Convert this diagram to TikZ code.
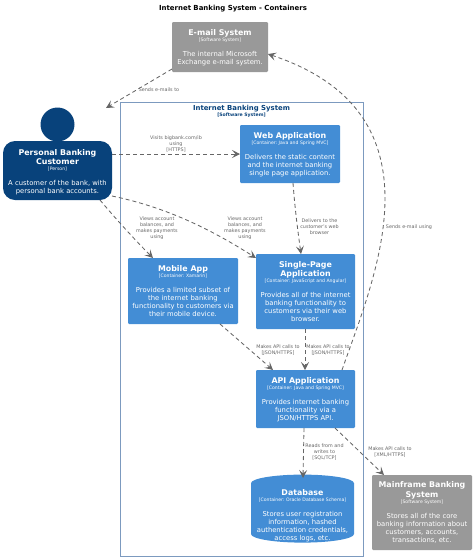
\documentclass[tikz,border=0pt]{standalone}
\usepackage{fontspec}
\setmainfont{DejaVu Sans}
\usetikzlibrary{arrows.meta,shapes.geometric}

\definecolor{personblue}{HTML}{08427B}
\definecolor{containerblue}{HTML}{438DD5}
\definecolor{externalgray}{HTML}{999999}
\definecolor{boundaryline}{HTML}{7C9ABF}
\definecolor{relgray}{HTML}{666666}

% size and leading, with the word space of that size
\newcommand{\fs}[2]{\fontsize{#1}{#2}\selectfont\spaceskip=\fontdimen2\font\xspaceskip=\spaceskip}
% title, kind, description of one box
\newcommand{\boxtext}[3]{%
  {\bfseries\fs{7.9}{9.2}#1\par}%
  {\fs{4.6}{6}[#2]\par}%
  \vspace{6.8pt}%
  {\fs{6.8}{8.1}#3\par}}

\begin{document}
\begin{tikzpicture}[
  x=1pt, y=-1pt,
  every node/.style={align=center},
  cbox/.style={rounded corners=1.2pt, text=white, inner sep=0pt, anchor=center},
  container/.style={cbox, fill=containerblue},
  external/.style={cbox, fill=externalgray},
  rel/.style={draw=relgray, line width=0.85pt, dash pattern=on 4pt off 3pt, -{Stealth[length=8pt,width=8pt,inset=3.5pt]}},
  lab/.style={text=relgray, inner sep=0pt, font=\fs{4.85}{6}}
]
\useasboundingbox (0,0) rectangle (474,558);

\node[font=\bfseries\fs{6.95}{8}, inner sep=0pt] (title) at (233,8.5) {Internet Banking System - Containers};

% system boundary
\node[draw=boundaryline, line width=0.6pt, minimum width=243pt, minimum height=454pt, inner sep=0pt] (boundary) at (241.5,329) {};
\node[text=personblue, inner sep=0pt, text width=160pt] (boundarytitle) at (241.5,111) {{\bfseries\fs{6.9}{8}Internet Banking System\par}{\bfseries\fs{4.6}{4.8}[Software System]\par}};

% person
\node[circle, fill=personblue, minimum size=34pt, inner sep=0pt] (head) at (57.5,124.5) {};
\node[cbox, fill=personblue, rounded corners=12pt, minimum width=109pt, minimum height=59pt, text width=108pt] (customer) at (57.5,170.5) {\boxtext{Personal Banking\\Customer}{Person}{A customer of the bank, with\\personal bank accounts.}\vspace{-3pt}};

\node[external, minimum width=96pt, minimum height=50pt, text width=96pt] (email) at (220,47) {\boxtext{E-mail System}{Software System}{The internal Microsoft\\Exchange e-mail system.}\vspace{-2pt}};
\node[container, minimum width=100pt, minimum height=58pt, text width=100pt] (web) at (290,154) {\boxtext{Web Application}{Container: Java and Spring MVC}{Delivers the static content\\and the internet banking\\single page application.}\vspace{-2pt}};
\node[container, minimum width=99pt, minimum height=75pt, text width=99pt] (spa) at (305.5,291.5) {\boxtext{Single-Page\\Application}{Container: JavaScript and Angular}{Provides all of the internet\\banking functionality to\\customers via their web\\browser.}};
\node[container, minimum width=110pt, minimum height=66pt, text width=110pt] (mobile) at (183,291) {\boxtext{Mobile App}{Container: Xamarin}{Provides a limited subset of\\the internet banking\\functionality to customers via\\their mobile device.}};
\node[container, minimum width=99pt, minimum height=58pt, text width=99pt] (api) at (305.5,399) {\boxtext{API Application}{Container: Java and Spring MVC}{Provides internet banking\\functionality via a\\JSON/HTTPS API.}\vspace{-1.5pt}};
\node[cylinder, shape border rotate=90, aspect=0.17, fill=containerblue, inner sep=0pt, minimum width=103pt, minimum height=68pt] (db) at (302.5,513) {\rule{101pt}{0pt}};
\node[cbox, text width=103pt] (dbtext) at (302.5,516) {\boxtext{Database}{Container: Oracle Database Schema}{Stores user registration\\information, hashed\\authentication credentials,\\access logs, etc.}};
\node[external, minimum width=100pt, minimum height=75pt, text width=100pt] (mainframe) at (422,512.5) {\boxtext{Mainframe Banking\\System}{Software System}{Stores all of the core\\banking information about\\customers, accounts,\\transactions, etc.}};

% ends of the connectors
\coordinate (emailout) at (172,69);
\coordinate (custin) at (106,108);
\coordinate (custvisit) at (112,154);
\coordinate (webin) at (240,154);
\coordinate (custdown) at (100,200);
\coordinate (mobilein) at (153,258);
\coordinate (custright) at (112,196);
\coordinate (spain) at (256,258);
\coordinate (webout) at (293,183);
\coordinate (spatop) at (301,254);
\coordinate (mobileout) at (220,324);
\coordinate (apiin) at (273,370);
\coordinate (spaout) at (305,329);
\coordinate (apitop) at (305,370);
\coordinate (apiout) at (342,370);
\coordinate (emailin) at (268,54);
\coordinate (apidown) at (304,428);
\coordinate (dbin) at (303,478);
\coordinate (apiright) at (335,428);
\coordinate (mainin) at (384,475);

% connectors
\draw[rel] (emailout) -- (custin);
\draw[rel] (custvisit) -- (webin);
\draw[rel] (custdown) .. controls (115,218) and (135,240) .. (mobilein);
\draw[rel] (custright) .. controls (170,208) and (215,232) .. (spain);
\draw[rel] (webout) .. controls (295,210) and (298,232) .. (spatop);
\draw[rel] (mobileout) -- (apiin);
\draw[rel] (spaout) -- (apitop);
\draw[rel] (apiout) .. controls (374,278) and (448,114) .. (emailin);
\draw[rel] (apidown) -- (dbin);
\draw[rel] (apiright) -- (mainin);

% connector labels
\node[lab] (lemail) at (159,90) {Sends e-mails to};
\node[lab] (lvisits) at (176,144) {Visits bigbank.com/ib\\using\\{[HTTPS]}};
\node[lab] (lmobile) at (157,228) {Views account\\balances, and\\makes payments\\using};
\node[lab] (lspa) at (245,228) {Views account\\balances, and\\makes payments\\using};
\node[lab] (lbrowser) at (319.5,227) {Delivers to the\\customer's web\\browser};
\node[lab] (lsends) at (409,227) {Sends e-mail using};
\node[lab] (lapione) at (278,350) {Makes API calls to\\{[JSON/HTTPS]}};
\node[lab] (lapitwo) at (328,350) {Makes API calls to\\{[JSON/HTTPS]}};
\node[lab] (lreads) at (324.5,452) {Reads from and\\writes to\\{[SQL/TCP]}};
\node[lab] (lxml) at (390,451.5) {Makes API calls to\\{[XML/HTTPS]}};

\end{tikzpicture}
\end{document}
